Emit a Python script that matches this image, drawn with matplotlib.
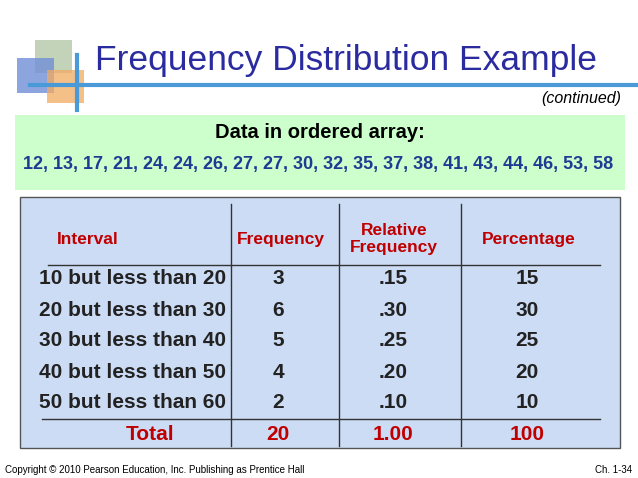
import matplotlib.pyplot as plt
from matplotlib.patches import Rectangle

intervals = ["10 but less than 20", "20 but less than 30", "30 but less than 40",
             "40 but less than 50", "50 but less than 60"]
frequency = [3, 6, 5, 4, 2]
relative = [".15", ".30", ".25", ".20", ".10"]
percentage = [15, 30, 25, 20, 10]
data = [12, 13, 17, 21, 24, 24, 26, 27, 27, 30, 32, 35, 37, 38, 41, 43, 44, 46, 53, 58]

plt.rcParams['font.family'] = ['Liberation Sans', 'DejaVu Sans']
fig = plt.figure(figsize=(6.38, 4.78), dpi=100)
ax = fig.add_axes([0, 0, 1, 1])
ax.set_xlim(0, 638)
ax.set_ylim(478, 0)
ax.axis('off')

# decoration squares
ax.add_patch(Rectangle((35, 40), 37, 33, color='#b5c8a8', alpha=0.8, lw=0))
ax.add_patch(Rectangle((17, 58), 37, 35, color='#6f8fd8', alpha=0.8, lw=0))
ax.add_patch(Rectangle((47, 70), 37, 33, color='#f2aa60', alpha=0.75, lw=0))
ax.plot([30, 638], [85, 85], color='#4a9ad8', lw=3)
ax.plot([77, 77], [55, 110], color='#4a9ad8', lw=3)

ax.text(346, 60, "Frequency Distribution Example", color='#2b2ba0', fontsize=25.5,
        ha='center', va='center')
ax.text(621, 98, "(continued)", fontsize=11.5, style='italic', ha='right', va='center')

# data box
ax.add_patch(Rectangle((15, 115), 610, 75, facecolor='#ccffcc', edgecolor='none'))
ax.text(320, 133, "Data in ordered array:", fontsize=14.5, weight='bold', ha='center', va='center')
ax.text(318, 165, ", ".join(str(v) for v in data), fontsize=13, weight='bold',
        color='#1f3a93', ha='center', va='center')

# table
ax.add_patch(Rectangle((20, 197), 600, 251, facecolor='#cddcf5', edgecolor='#555555', lw=1))
for x in [231, 339, 461]:
    ax.plot([x, x], [204, 446], color='#333333', lw=1)
ax.plot([48, 600], [265, 265], color='#333333', lw=1)
ax.plot([42, 600], [419, 419], color='#333333', lw=1)

red = '#c00000'
hy = 239
ax.text(88, hy, "Interval", color=red, fontsize=12.5, weight='bold', ha='center', va='center')
ax.text(281, hy, "Frequency", color=red, fontsize=12.5, weight='bold', ha='center', va='center')
ax.text(394, hy, "Relative\nFrequency", color=red, fontsize=12.5, weight='bold',
        ha='center', va='center', linespacing=1.2)
ax.text(529, hy, "Percentage", color=red, fontsize=12.5, weight='bold', ha='center', va='center')

ys = [279, 310, 341, 372, 403]
for y, iv, f, r, p in zip(ys, intervals, frequency, relative, percentage):
    kw = dict(fontsize=15, weight='bold', color='#222222', va='center')
    ax.text(226, y, iv, ha='right', **kw)
    ax.text(278, y, str(f), ha='center', **kw)
    ax.text(393, y, r, ha='center', **kw)
    ax.text(527, y, str(p), ha='center', **kw)

ty = 434
kw = dict(fontsize=15, weight='bold', color=red, va='center', ha='center')
ax.text(150, ty, "Total", **kw)
ax.text(278, ty, str(sum(frequency)), **kw)
ax.text(393, ty, "1.00", **kw)
ax.text(527, ty, str(sum(percentage)), **kw)

ax.text(5, 470, "Copyright \u00a9 2010 Pearson Education, Inc. Publishing as Prentice Hall",
        fontsize=7, va='center', ha='left')
ax.text(632, 470, "Ch. 1-34", fontsize=7, va='center', ha='right')

fig.savefig("out.png", dpi=100)
